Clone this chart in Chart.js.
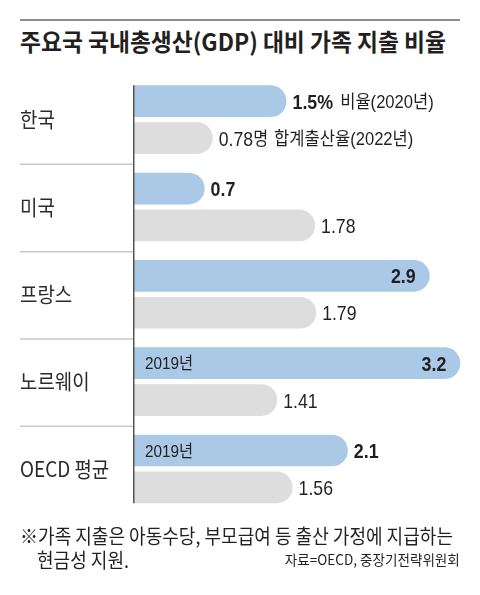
<!DOCTYPE html>
<html><head><meta charset="utf-8">
<script src="https://cdn.jsdelivr.net/npm/chart.js@4"></script>
<style>
html,body{margin:0;padding:0;background:#fff;}
#wrap{position:relative;width:480px;height:595px;overflow:hidden;background:#fff;}
#rule{position:absolute;left:20px;top:19px;width:440px;height:2px;background:#8c8c8c;}
.t{position:absolute;white-space:nowrap;transform-origin:0 0;font-family:"Noto Sans CJK KR","Noto Sans",sans-serif;color:#231f20;line-height:1;}
#title{left:20px;top:29px;font-size:24px;font-weight:700;}
#note1{left:20px;top:526px;font-size:20px;}
#note2{left:37px;top:550px;font-size:20px;}
#src{right:20px;top:552px;font-size:14px;transform-origin:100% 0;}
canvas{position:absolute;left:0;top:0;}
</style></head>
<body>
<div id="wrap">
<div id="rule"></div>
<div class="t" id="title">주요국 국내총생산(GDP) 대비 가족 지출 비율</div>
<canvas id="c" width="480" height="595"></canvas>
<div class="t" id="note1">※가족 지출은 아동수당, 부모급여 등 출산 가정에 지급하는</div>
<div class="t" id="note2">현금성 지원.</div>
<div class="t" id="src">자료=OECD, 중장기전략위원회</div>
</div>
<script>
// ---- data ----
const categories = ['한국', '미국', '프랑스', '노르웨이', 'OECD 평균'];
const gdpShare = [1.5, 0.7, 2.9, 3.2, 2.1];          // 가족 지출 / GDP (%)
const fertility = [0.78, 1.78, 1.79, 1.41, 1.56];    // 합계출산율 (명)
const gdpText = ['1.5%', '0.7', '2.9', '3.2', '2.1'];
const fertText = ['0.78', '1.78', '1.79', '1.41', '1.56'];
const gdpSuffix = ['비율(2020년)', '', '', '', ''];
const fertUnit = ['명', '', '', '', ''];
const fertSuffix = ['합계출산율(2022년)', '', '', '', ''];
const yearNote = ['', '', '', '2019년', '2019년'];
const gdpInside = [false, false, true, true, false];

// ---- fit HTML text widths ----
function fit(id, w) {
  const el = document.getElementById(id);
  const nat = el.getBoundingClientRect().width;
  const s = w / nat;
  el.style.transform = 'scaleX(' + s + ')';
  return s;
}
fit('title', 426);
const ns = fit('note1', 433);
document.getElementById('note2').style.transform = 'scaleX(' + ns + ')';
fit('src', 175);

const LAT = '"Liberation Sans","Noto Sans CJK KR",sans-serif';
const KR = '"Noto Sans CJK KR","Liberation Sans",sans-serif';
const TXT = '#231f20';

function drawText(ctx, str, x, cy, font, size, sx, align, color) {
  ctx.save();
  ctx.font = font;
  const w = ctx.measureText(str).width * sx;
  let x0 = x;
  if (align === 'right') x0 = x - w;
  ctx.translate(x0, cy + size * 0.36);
  ctx.scale(sx, 1);
  ctx.textAlign = 'left';
  ctx.textBaseline = 'alphabetic';
  ctx.fillStyle = color || TXT;
  ctx.fillText(str, 0, 0);
  ctx.restore();
  return w;
}

const decor = {
  id: 'decor',
  afterDatasetsDraw(chart) {
    const ctx = chart.ctx;
    const area = chart.chartArea;
    const yScale = chart.scales.y;
    const m0 = chart.getDatasetMeta(0).data;
    const m1 = chart.getDatasetMeta(1).data;

    // category labels
    categories.forEach((c, i) => {
      drawText(ctx, c, 20, yScale.getPixelForValue(i), '400 21px ' + KR, 21, 0.9, 'left', '#2a2a2a');
    });
    // separators
    ctx.save();
    ctx.strokeStyle = '#c9c9c9';
    ctx.lineWidth = 1.5;
    for (let i = 0; i < categories.length - 1; i++) {
      const y = (yScale.getPixelForValue(i) + yScale.getPixelForValue(i + 1)) / 2 + 1;
      ctx.beginPath();
      ctx.moveTo(20, y);
      ctx.lineTo(area.left, y);
      ctx.stroke();
    }
    // axis line
    const top = m0[0].y - m0[0].height / 2;
    const last = m1[m1.length - 1];
    const bot = last.y + last.height / 2;
    ctx.strokeStyle = '#555';
    ctx.lineWidth = 1.5;
    ctx.beginPath();
    ctx.moveTo(area.left + 0.75, top);
    ctx.lineTo(area.left + 0.75, bot);
    ctx.stroke();
    ctx.restore();

    // blue labels
    m0.forEach((bar, i) => {
      const cy = bar.y;
      if (yearNote[i]) {
        drawText(ctx, yearNote[i], area.left + 12, cy, '400 17px ' + LAT, 17, 0.9, 'left');
      }
      if (gdpInside[i]) {
        drawText(ctx, gdpText[i], bar.x - 14, cy, '700 21px ' + LAT, 21, 0.85, 'right');
      } else {
        let x = bar.x + 6;
        x += drawText(ctx, gdpText[i], x, cy, '700 21px ' + LAT, 21, 0.85, 'left');
        if (gdpSuffix[i]) {
          drawText(ctx, gdpSuffix[i], x + 7, cy, '400 18px ' + LAT, 18, 0.92, 'left');
        }
      }
    });
    // gray labels
    m1.forEach((bar, i) => {
      const cy = bar.y;
      let x = bar.x + 6;
      x += drawText(ctx, fertText[i], x, cy, '400 21px ' + LAT, 21, 0.84, 'left');
      if (fertUnit[i]) {
        x += drawText(ctx, fertUnit[i], x, cy, '400 18px ' + KR, 18, 0.9, 'left');
      }
      if (fertSuffix[i]) {
        drawText(ctx, fertSuffix[i], x + 6, cy, '400 18px ' + LAT, 18, 0.92, 'left');
      }
    });
  }
};

new Chart(document.getElementById('c'), {
  type: 'bar',
  data: {
    labels: categories,
    datasets: [
      { data: gdpShare, backgroundColor: '#a9c9e6', borderRadius: 40, borderSkipped: 'start',
        categoryPercentage: 0.845, barPercentage: 0.86 },
      { data: fertility, backgroundColor: '#dcdddc', borderRadius: 40, borderSkipped: 'start',
        categoryPercentage: 0.845, barPercentage: 0.86 }
    ]
  },
  options: {
    indexAxis: 'y',
    responsive: false,
    animation: false,
    layout: { padding: { left: 20, right: 19.6, top: 76, bottom: 82.4 } },
    plugins: { legend: { display: false }, tooltip: { enabled: false } },
    scales: {
      x: { display: false, min: 0, max: 3.2 },
      y: {
        display: true,
        grid: { display: false },
        border: { display: false },
        ticks: { display: false },
        afterFit(s) { s.width = 113; }
      }
    }
  },
  plugins: [decor]
});
</script>
</body></html>
